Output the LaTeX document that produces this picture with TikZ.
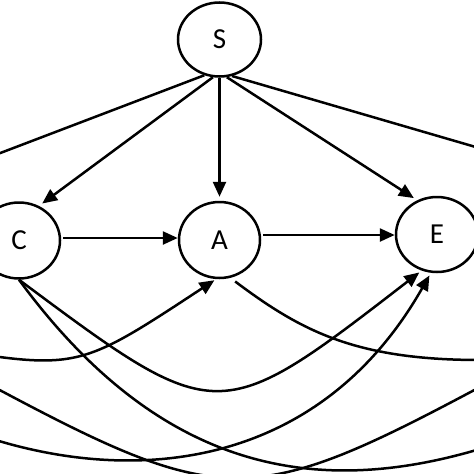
\documentclass[tikz,border=0pt]{standalone}
\usepackage{fontspec}
\setmainfont{Carlito}
\usetikzlibrary{arrows.meta,shapes.geometric}
\begin{document}
\begin{tikzpicture}[x=1pt,y=-1pt,
  state/.style={ellipse,draw,line width=2.5pt,inner sep=0pt,font=\fontsize{29}{29}\selectfont},
  conn/.style={line width=2.5pt,-{Triangle[length=15pt,width=13pt]}},
  plain/.style={line width=2.5pt}]
\useasboundingbox (0,0) rectangle (474,474);
\clip (0,0) rectangle (474,474);
\node[state,minimum width=83pt,minimum height=74pt] (S) at (219.5,39.5) {S};
\node[state,minimum width=82pt,minimum height=76pt] (C) at (19,240.5) {C};
\node[state,minimum width=81pt,minimum height=76pt] (A) at (219.5,240) {A};
\node[state,minimum width=82pt,minimum height=75pt] (E) at (437,234.5) {E};
\coordinate (LS) at (-60,176);
\coordinate (RS) at (534,164);
\coordinate (L1) at (-60,348);
\coordinate (R3) at (480,360);
\coordinate (R4) at (560,420);
\coordinate (L5) at (-110,395);
\coordinate (L6) at (-60,358);
\coordinate (R6) at (534,358);
% straight edges from S
\draw[plain] (S.247) -- (LS);
\draw[plain] (S.289) -- (RS);
\draw[conn,shorten >=4pt] (S.260) -- (C.60);
\draw[conn,shorten >=4pt] (S.south) -- (A.north);
\draw[conn,shorten >=4pt] (S.281) -- (E.120);
% horizontal edges
\draw[conn,shorten <=2pt] (C.east |- 0,238) -- (A.west |- 0,238);
\draw[conn,shorten <=2pt] (A.east |- 0,235) -- (E.west |- 0,235);
% curved edges
\draw[conn,shorten >=2pt] (L1) .. controls (78,370) .. (A.265);
\draw[conn,shorten >=3pt] (C.270) .. controls (218,428) .. (E.247);
\draw[plain,shorten <=6pt] (A.286) .. controls (300,330) and (354,360) .. (R3);
\draw[plain] (C.270) .. controls (185,506) and (370,500) .. (R4);
\draw[conn,shorten >=3pt] (L5) .. controls (60,490) and (300,503) .. (E.261);
\draw[plain] (L6) .. controls (237,518) .. (R6);
\end{tikzpicture}
\end{document}
